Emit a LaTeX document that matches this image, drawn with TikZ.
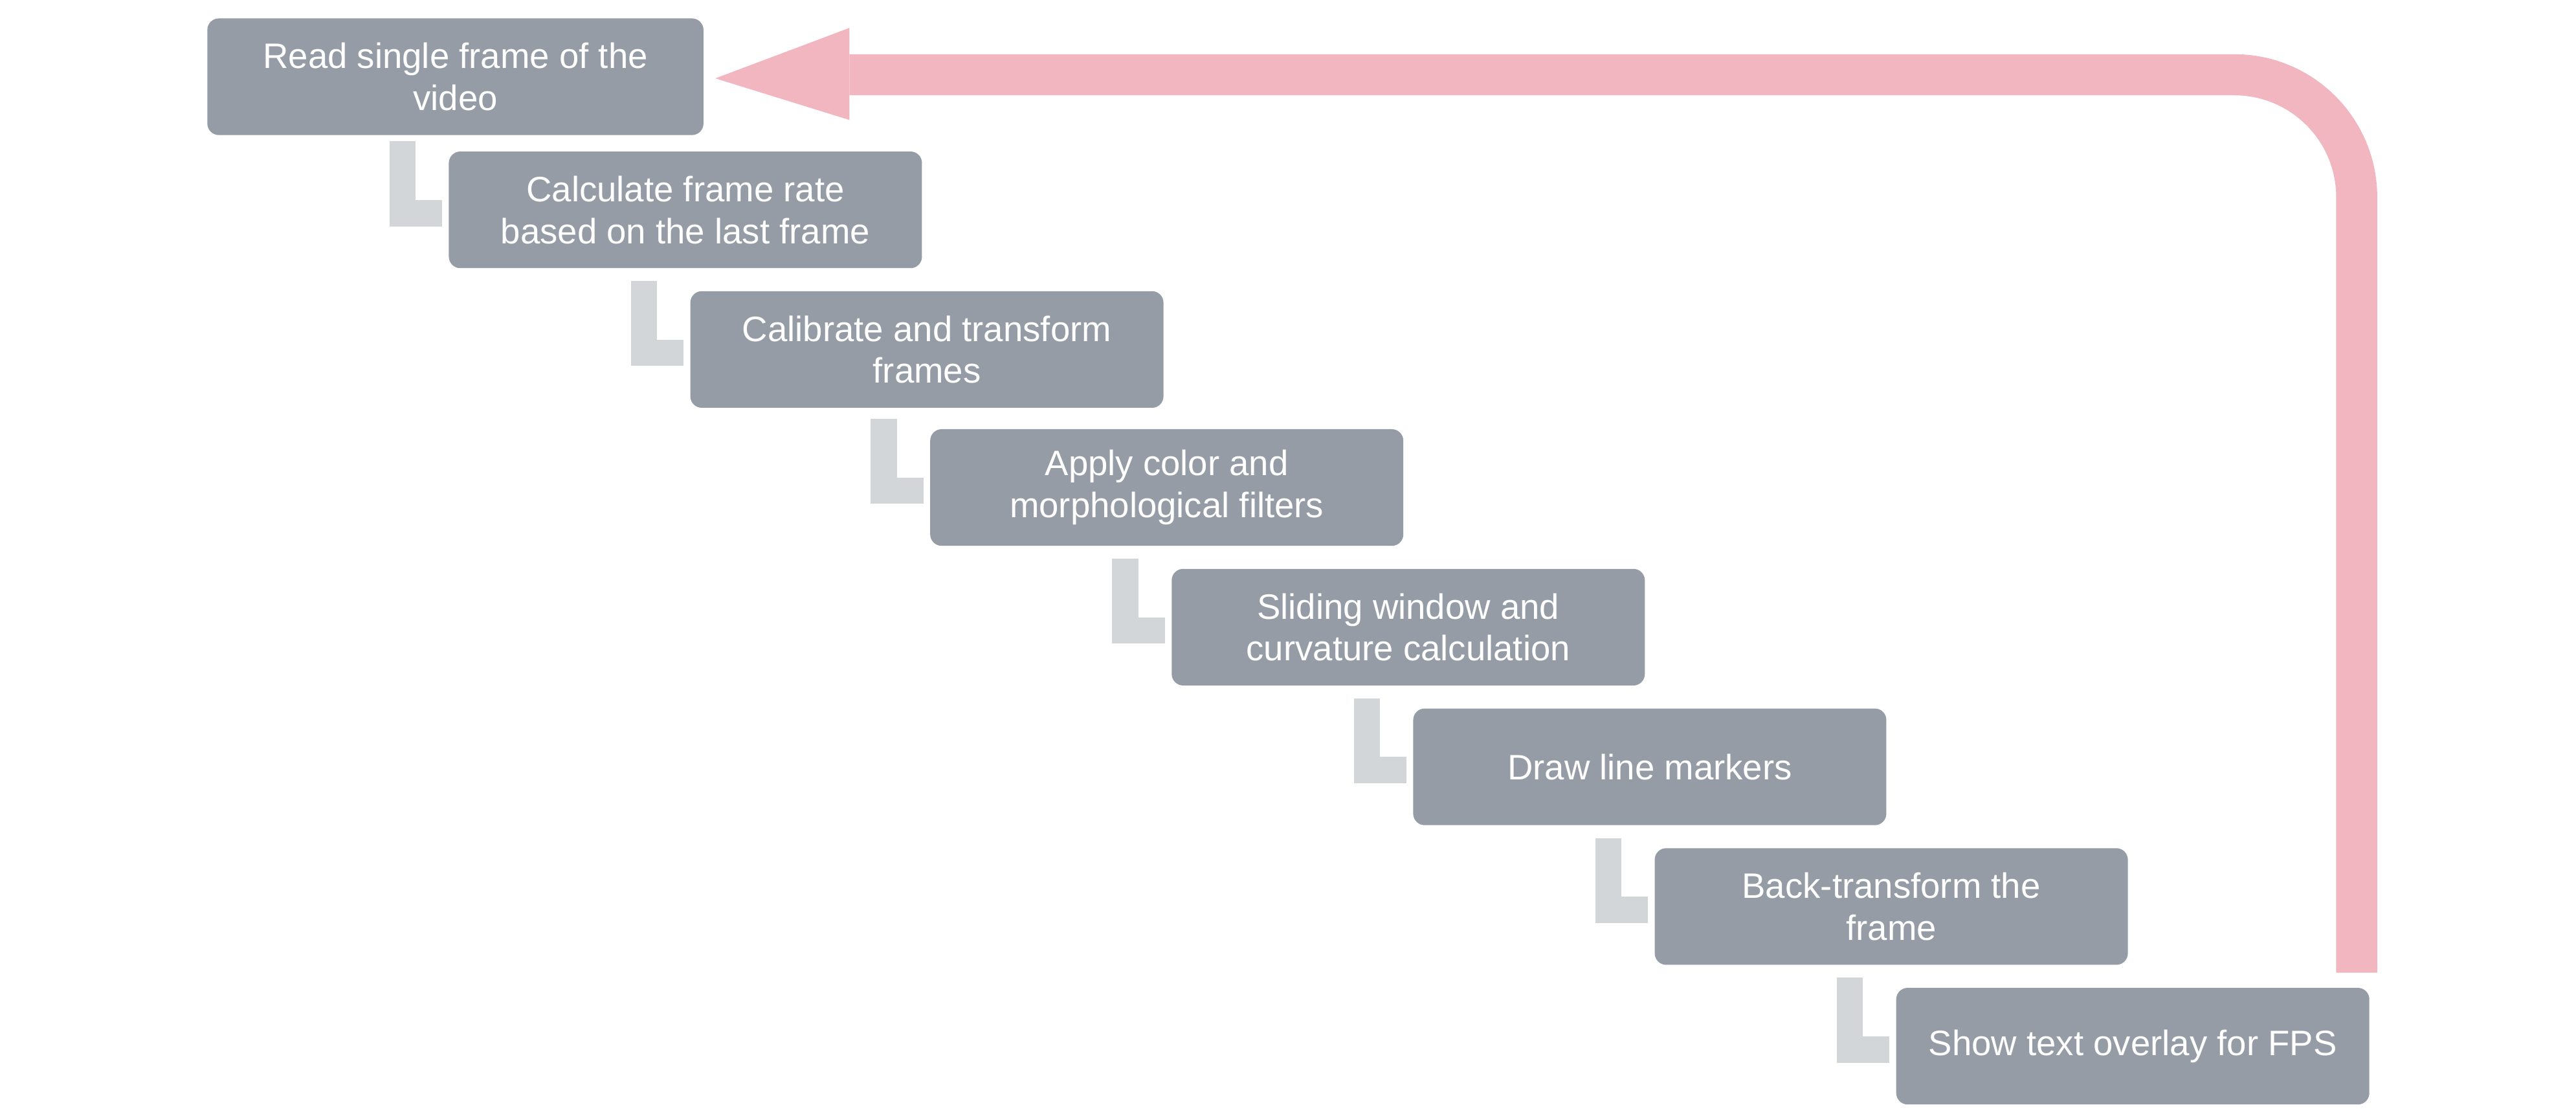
\documentclass[tikz,border=0pt]{standalone}
\usepackage{fontspec}
\setmainfont{Liberation Sans}
\definecolor{boxg}{HTML}{959CA5}
\definecolor{elb}{HTML}{D3D6D9}
\definecolor{pinkc}{HTML}{F2B6C0}
\begin{document}
\begin{tikzpicture}[x=1pt,y=-1pt,
  stepbox/.style={fill=boxg,rounded corners=7pt,minimum width=288pt,minimum height=71pt,align=center,text=white,font=\fontsize{21.5}{25.5}\selectfont,inner sep=2pt,anchor=north west}]
\useasboundingbox (0,0) rectangle (1568,679);
\node[stepbox,minimum width=302pt] (b1) at (126,11) {Read single frame of the\\video};
\node[stepbox] (b2) at (273,92) {Calculate frame rate\\based on the last frame};
\node[stepbox] (b3) at (420,177) {Calibrate and transform\\frames};
\node[stepbox] (b4) at (566,261) {Apply color and\\morphological filters};
\node[stepbox] (b5) at (713,346) {Sliding window and\\curvature calculation};
\node[stepbox] (b6) at (860,431) {Draw line markers};
\node[stepbox] (b7) at (1007,516) {Back-transform the\\frame};
\node[stepbox] (b8) at (1154,601) {Show text overlay for FPS};
\foreach \b in {b2,b3,b4,b5,b6,b7,b8}{
  \fill[elb] ([xshift=-36pt,yshift=6pt]\b.north west) rectangle ([xshift=-20pt,yshift=-10pt]\b.west);
  \fill[elb] ([xshift=-36pt,yshift=6pt]\b.west) rectangle ([xshift=-4pt,yshift=-10pt]\b.west);
}
\coordinate (p1) at (1434.5,592);
\coordinate (p2) at (517,45.5);
\draw[pinkc,line width=25pt,rounded corners=74.5pt] (p1) -- (1434.5,45.5) -- (p2);
\fill[pinkc] ([xshift=7pt,yshift=-1pt]b1.east) -- (517,17) -- (517,73) -- cycle;
\end{tikzpicture}
\end{document}
